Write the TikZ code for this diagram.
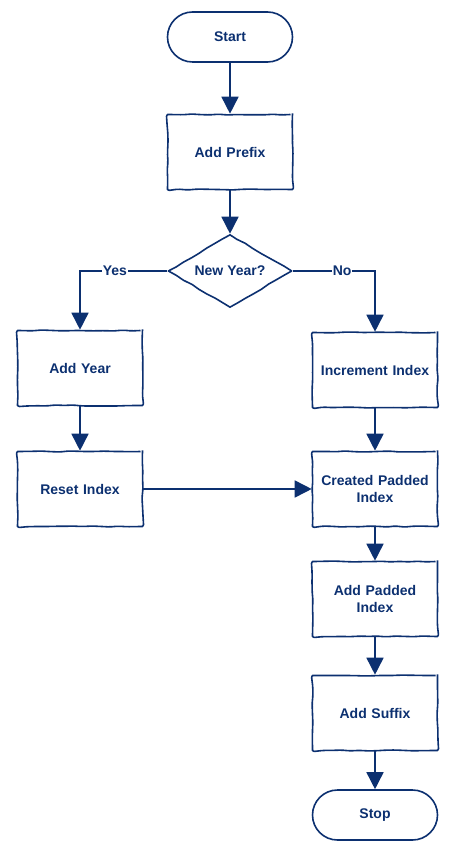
\documentclass[tikz,border=0pt]{standalone}
\usepackage{fontspec}
\setmainfont{Liberation Sans}
\usepackage{tikz}
\usetikzlibrary{arrows.meta, positioning, shapes.geometric, calc, decorations.pathmorphing}

\definecolor{navy}{RGB}{12,48,112}

\tikzset{
  sketch/.style={decorate, decoration={random steps, segment length=9pt, amplitude=0.5pt}},
  base/.style={draw=navy, line width=1.6pt, text=navy, font=\fontsize{14}{16.5}\selectfont\bfseries, align=center, line join=round},
  terminal/.style={base, rectangle, rounded corners=25pt, minimum width=125pt, minimum height=50pt},
  stepbox/.style={base, sketch, rectangle, rounded corners=2pt, minimum width=125pt, minimum height=75pt, text width=118pt},
  decision/.style={base, sketch, diamond, aspect=1.7, minimum width=124pt, minimum height=73pt, inner sep=0pt},
  flow/.style={draw=navy, line width=1.6pt, -{Triangle[length=17pt,width=17pt]}},
  lbl/.style={fill=white, text=navy, font=\fontsize{14}{16.5}\selectfont\bfseries, inner sep=1pt}
}

\begin{document}
\begin{tikzpicture}[x=1pt,y=-1pt]
  \useasboundingbox (0,0) rectangle (451,858);

  % --- Main column ---
  \node[terminal] (start)   at (230,37)  {Start};
  \node[stepbox]  (prefix)  at (230,152) {Add Prefix};
  \node[decision] (newyear) at (230,271) {New Year?};

  % --- Yes branch (left) ---
  \node[stepbox]  (addyear) at (80,368)  {Add Year};
  \node[stepbox]  (reset)   at (80,489)  {Reset Index};

  % --- No branch (right) ---
  \node[stepbox]  (incr)    at (375,370) {Increment Index};
  \node[stepbox]  (padded)  at (375,489) {Created Padded\\Index};
  \node[stepbox]  (addpad)  at (375,599) {Add Padded\\Index};
  \node[stepbox]  (suffix)  at (375,713) {Add Suffix};
  \node[terminal] (stop)    at (375,815) {Stop};

  % --- Connectors ---
  \draw[flow] (start) -- (prefix);
  \draw[flow] (prefix) -- (newyear);
  \draw[flow] (newyear.west) -| node[lbl, pos=0.3] {Yes} (addyear.north);
  \draw[flow] (newyear.east) -| node[lbl, pos=0.3] {No} (incr.north);
  \draw[flow] (addyear) -- (reset);
  \draw[flow] (reset) -- (padded);
  \draw[flow] (incr) -- (padded);
  \draw[flow] (padded) -- (addpad);
  \draw[flow] (addpad) -- (suffix);
  \draw[flow] (suffix) -- (stop);

\end{tikzpicture}
\end{document}
